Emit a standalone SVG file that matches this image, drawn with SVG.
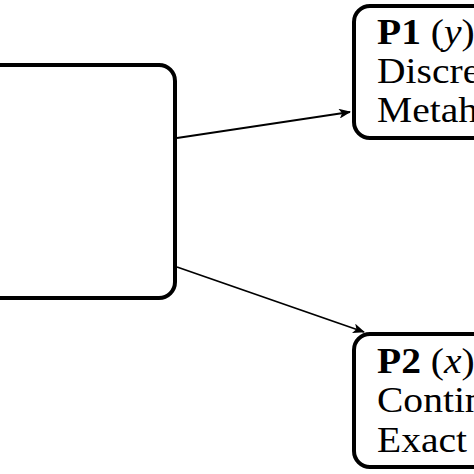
<svg xmlns="http://www.w3.org/2000/svg" width="474" height="474" viewBox="0 0 474 474">
<style>
.box{fill:#fff;stroke:#000;stroke-width:4}
.t{font-family:"Liberation Serif",serif;font-size:35px;fill:#000}
.b{font-weight:bold}
.i{font-style:italic}
.c{stroke:#000;stroke-width:1.8;fill:none}
</style>
<defs>
<marker id="ah" markerWidth="12" markerHeight="10" refX="11" refY="5" orient="auto" markerUnits="userSpaceOnUse">
<path d="M0,0 L12,5 L0,10 L3,5 Z" fill="#000"/>
</marker>
</defs>
<rect width="474" height="474" fill="#fff"/>
<g id="connectors">
<line class="c" x1="177" y1="138" x2="350" y2="112" marker-end="url(#ah)"/>
<line class="c" x1="177" y1="267" x2="364" y2="332" marker-end="url(#ah)"/>
</g>
<g id="root">
<rect class="box" x="-30" y="65" width="205" height="233" rx="16"/>
</g>
<g id="p1">
<rect class="box" x="354" y="6" width="160" height="132" rx="16"/>
<g transform="translate(377,0) scale(1.13,1)">
<text class="t" x="0" y="44"><tspan class="b">P1</tspan> (<tspan class="i">y</tspan>)</text>
<text class="t" x="0" y="83">Discre</text>
<text class="t" x="0" y="122">Metah</text>
</g>
</g>
<g id="p2">
<rect class="box" x="354" y="334" width="160" height="133" rx="16"/>
<g transform="translate(377,0) scale(1.13,1)">
<text class="t" x="0" y="373"><tspan class="b">P2</tspan> (<tspan class="i">x</tspan>)</text>
<text class="t" x="0" y="412">Contin</text>
<text class="t" x="0" y="452">Exact</text>
</g>
</g>
</svg>
